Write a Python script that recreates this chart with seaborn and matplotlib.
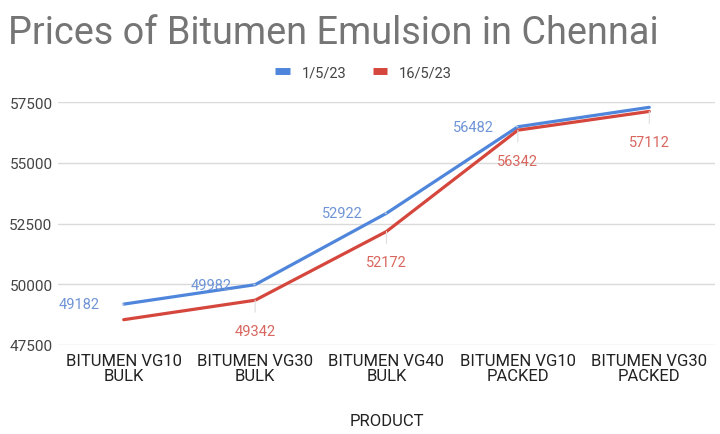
import matplotlib
matplotlib.use("Agg")
import matplotlib.pyplot as plt
from matplotlib.lines import Line2D
import pandas as pd
import seaborn as sns

# data
products = ["BITUMEN VG10\nBULK", "BITUMEN VG30\nBULK", "BITUMEN VG40\nBULK",
            "BITUMEN VG10\nPACKED", "BITUMEN VG30\nPACKED"]
series_names = ["1/5/23", "16/5/23"]
prices_0105 = [49182, 49982, 52922, 56482, 57282]
prices_1605 = [48542, 49342, 52172, 56342, 57112]
# which points carry a value label (the others were hidden in the source)
label_0105 = [True, True, True, True, False]
label_1605 = [False, True, True, True, True]
yticks = [47500, 50000, 52500, 55000, 57500]

BLUE = "#4f86dc"
RED = "#d5463c"

df = pd.DataFrame({
    "PRODUCT": products * 2,
    "price": prices_0105 + prices_1605,
    "date": [series_names[0]] * 5 + [series_names[1]] * 5,
})
df["x"] = list(range(5)) * 2

sns.set_theme(style="white")
plt.rcParams["font.family"] = ["Roboto", "DejaVu Sans"]

fig = plt.figure(figsize=(7.2, 4.35), dpi=100)
ax = fig.add_axes([0.0806, 0.2046, 0.9124, 0.5586])

sns.lineplot(data=df, x="x", y="price", hue="date", palette=[BLUE, RED],
             linewidth=2.3, ax=ax, legend=False)

# value labels with faint leader lines
for i, (v, show) in enumerate(zip(prices_0105, label_0105)):
    if show:
        ax.annotate(str(v), (i, v), xytext=(-32, 0), textcoords="offset points",
                    ha="center", va="center", fontsize=10.5, color="#6f94d6",
                    arrowprops=dict(arrowstyle="-", color="#dddddd", lw=0.8,
                                    shrinkA=14, shrinkB=0))
for i, (v, show) in enumerate(zip(prices_1605, label_1605)):
    if show:
        ax.annotate(str(v), (i, v), xytext=(0, -22), textcoords="offset points",
                    ha="center", va="center", fontsize=10.5, color="#d9665e",
                    arrowprops=dict(arrowstyle="-", color="#dddddd", lw=0.8,
                                    shrinkA=6, shrinkB=0))

ax.set_xlim(-0.5, 4.5)
ax.set_ylim(47500, 57500)
ax.set_yticks(yticks)
ax.set_yticklabels([str(t) for t in yticks], fontsize=11, color="#444444")
ax.set_xticks(range(5))
ax.set_xticklabels(products, fontsize=12, color="#222222", linespacing=0.95)
ax.tick_params(axis="both", length=0, pad=4)
ax.tick_params(axis="x", pad=6)
ax.grid(axis="y", color="#dadada", linewidth=1)
ax.set_axisbelow(True)
for s in ax.spines.values():
    s.set_visible(False)
ax.set_xlabel("PRODUCT", fontsize=12, color="#222222", labelpad=22)
ax.set_ylabel("")

fig.text(0.011, 0.9, "Prices of Bitumen Emulsion in Chennai", fontsize=27.3,
         color="#757575", ha="left", va="baseline")

# legend
handles = [Line2D([0], [0], color=c, lw=5, solid_capstyle="butt") for c in (BLUE, RED)]
fig.legend(handles, series_names, loc="center", bbox_to_anchor=(0.505, 0.832),
           ncol=2, frameon=False, fontsize=10.5, handlelength=1.0,
           columnspacing=1.8, handletextpad=0.8, labelcolor="#444444")

fig.savefig("out.png", dpi=100)
